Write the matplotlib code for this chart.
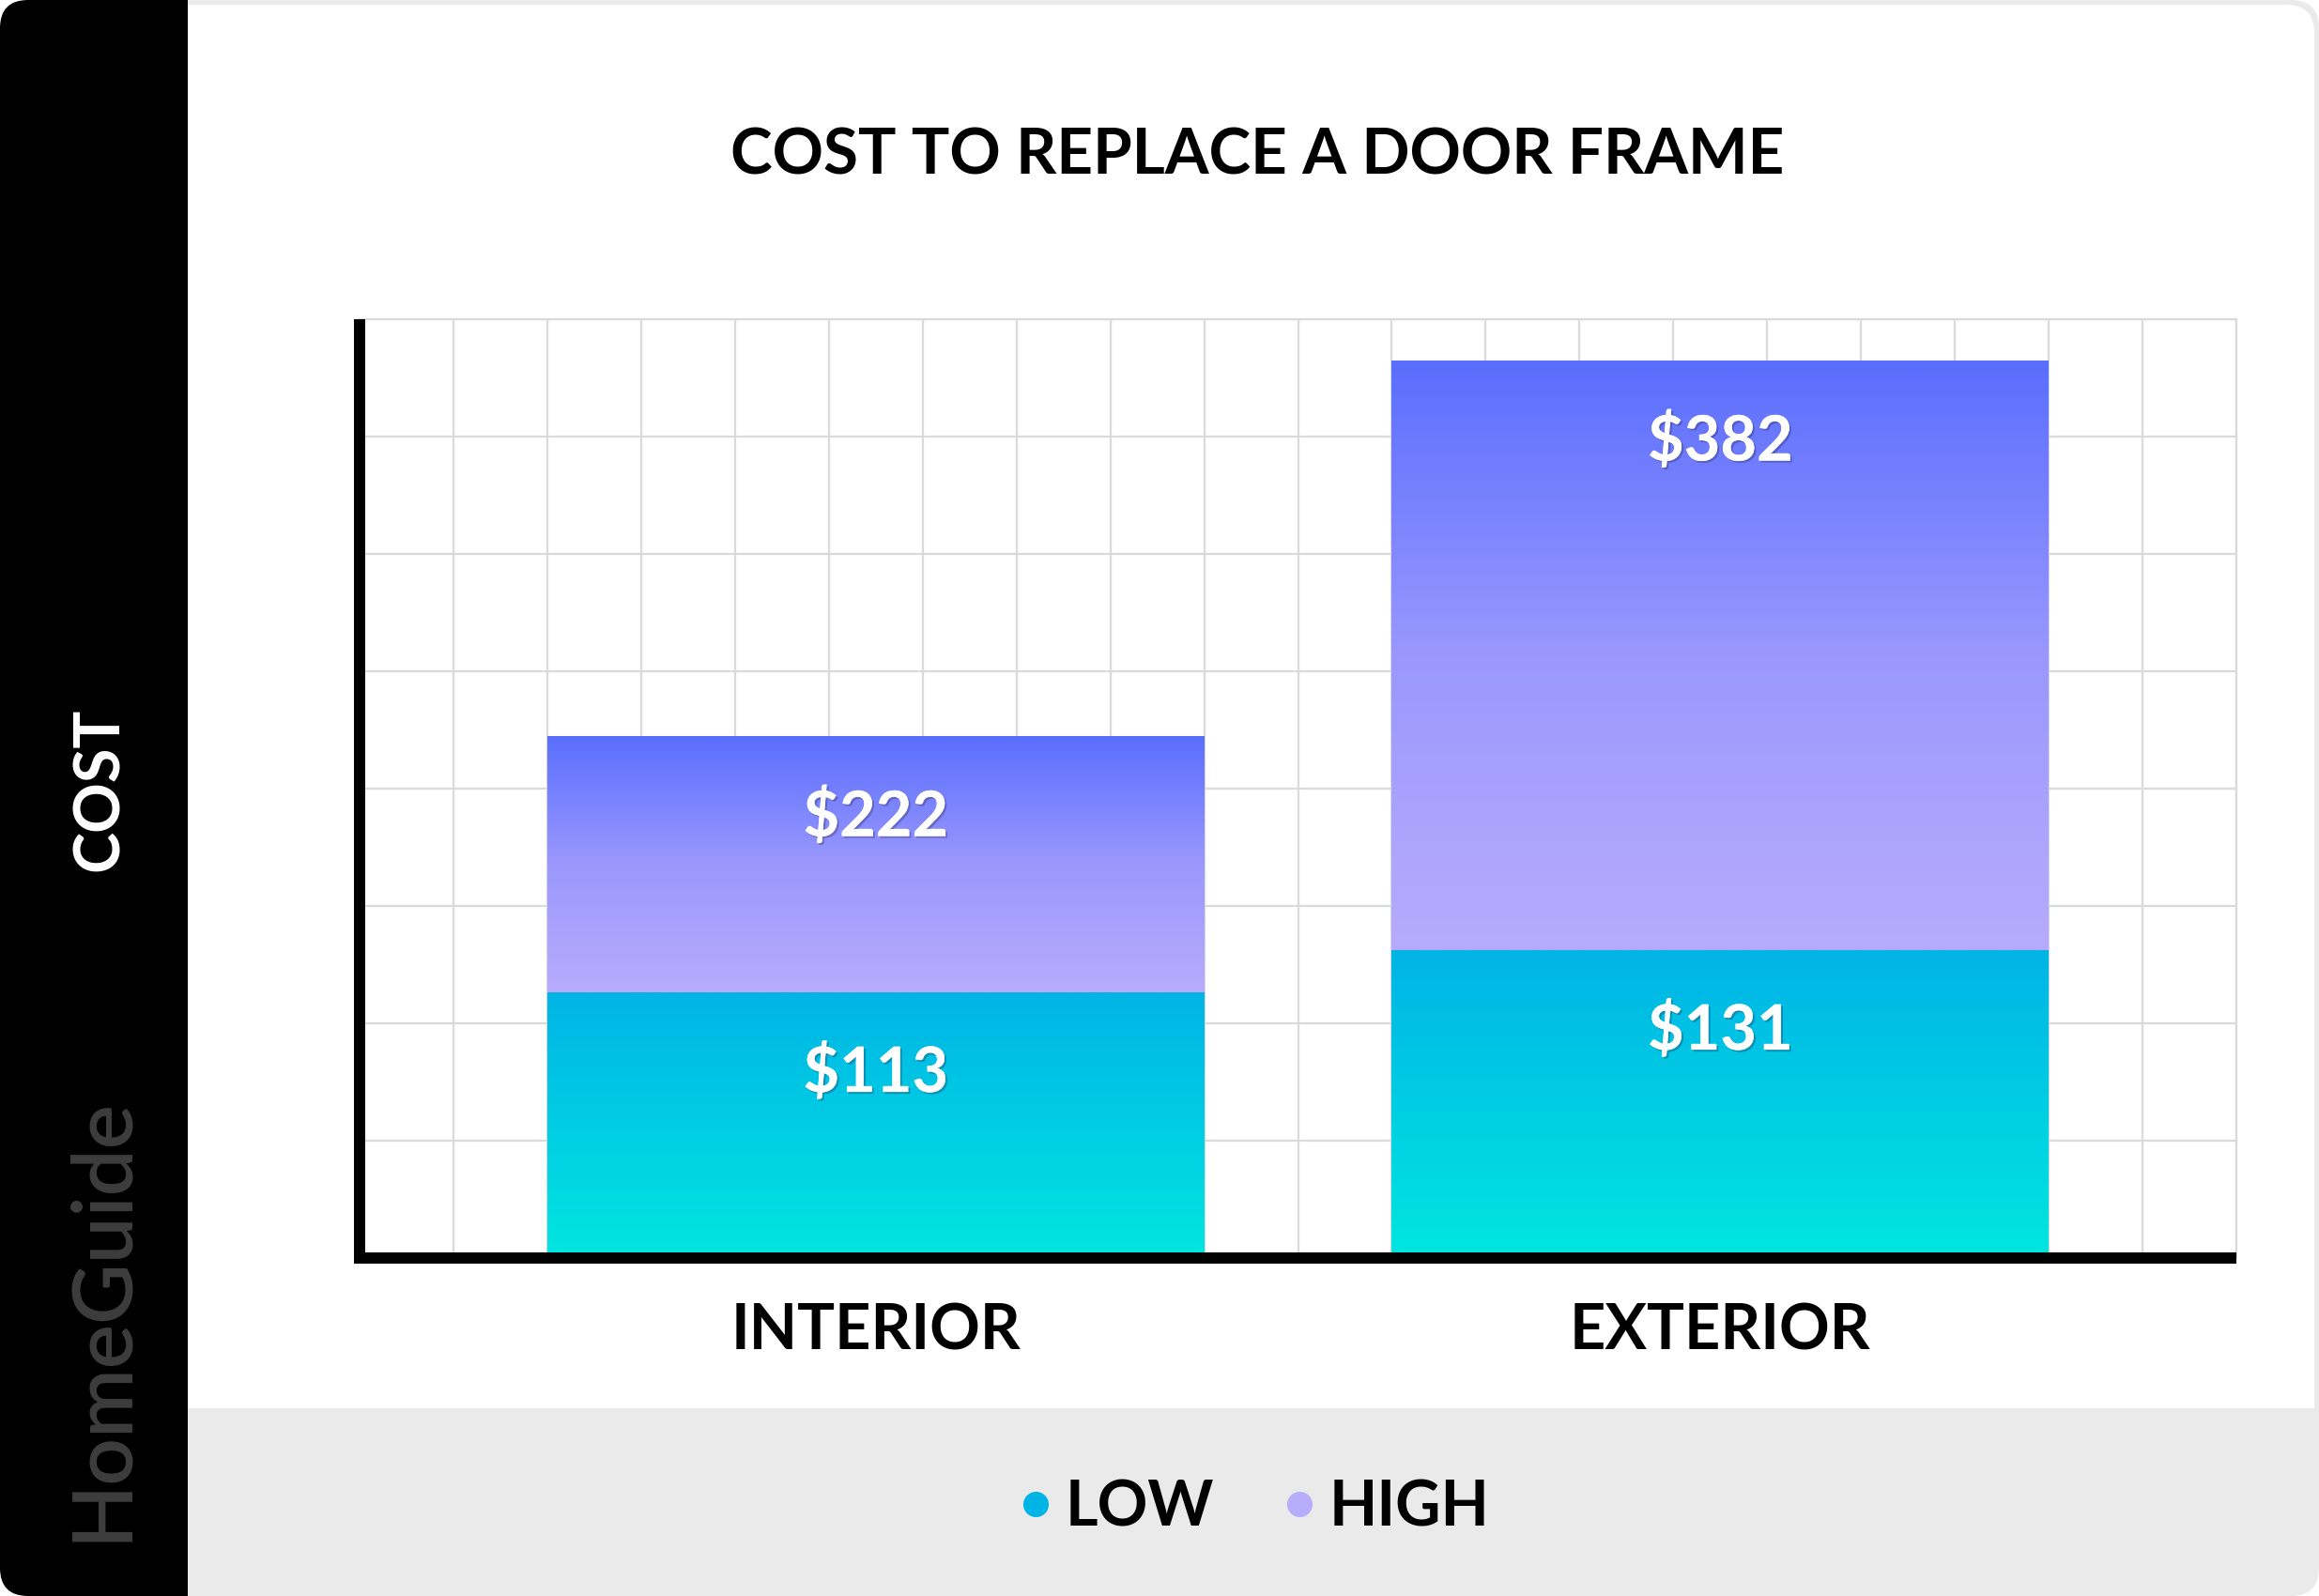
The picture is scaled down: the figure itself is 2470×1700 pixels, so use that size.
import matplotlib.pyplot as plt
import numpy as np
import matplotlib.patheffects as pe
from matplotlib.patches import FancyBboxPatch, Rectangle
from matplotlib.transforms import IdentityTransform
from matplotlib.lines import Line2D
from matplotlib.colors import LinearSegmentedColormap

# data
categories = ['INTERIOR', 'EXTERIOR']
low_cost = [113, 131]
high_cost = [222, 382]
series_names = ['LOW', 'HIGH']

W, H = 2470, 1700
plt.rcParams['font.family'] = ['Lato', 'DejaVu Sans']

fig = plt.figure(figsize=(W / 100, H / 100), dpi=100, facecolor='white')


def card(x0, y0, x1, y1, color, r=0, z=-10):
    # pixel box measured from the top-left corner of the image
    if r:
        p = FancyBboxPatch((x0, H - y1), x1 - x0, y1 - y0,
                           boxstyle='round,pad=0,rounding_size=%d' % r,
                           fc=color, ec='none', zorder=z)
    else:
        p = Rectangle((x0, H - y1), x1 - x0, y1 - y0, fc=color, ec='none', zorder=z)
    p.set_transform(IdentityTransform())
    fig.add_artist(p)


# background card: grey frame, white panel, black side strip
card(0, 0, W, H, '#eaeaea', r=30, z=-10)
card(150, 5, 2465, 1500, 'white', r=30, z=-9)
card(150, 1000, 2465, 1500, 'white', z=-9)
card(0, 0, 200, H, 'black', r=30, z=-8)
card(150, 0, 200, H, 'black', z=-8)

ax = fig.add_axes([383 / W, (H - 1340) / H, (2382 - 383) / W, (1340 - 340) / H])
ax.set_facecolor('white')

xpos = np.array([5.5, 14.5])
bar_w = 7

high_bars = ax.bar(xpos, high_cost, width=bar_w, color='#5b6ffe', ec='none', zorder=2)
low_bars = ax.bar(xpos, low_cost, width=bar_w, color='#00b5e6', ec='none', zorder=3)

high_cmap = LinearSegmentedColormap.from_list('hi', ['#b8abfc', '#9a98fd', '#5a6efe'])
low_cmap = LinearSegmentedColormap.from_list('lo', ['#00e6e0', '#00b4e6'])
grad = np.linspace(0, 1, 256).reshape(-1, 1)

for hb, lb in zip(high_bars, low_bars):
    x0, x1 = hb.get_x(), hb.get_x() + hb.get_width()
    ax.imshow(grad, cmap=high_cmap, extent=(x0, x1, lb.get_height(), hb.get_height()),
              origin='lower', aspect='auto', interpolation='bilinear', zorder=2.5)
    ax.imshow(grad, cmap=low_cmap, extent=(x0, x1, 0, lb.get_height()),
              origin='lower', aspect='auto', interpolation='bilinear', zorder=3.5)

shadow = [pe.withSimplePatchShadow(offset=(1.5, -1.5), shadow_rgbFace='#202050', alpha=0.3),
          pe.Normal()]
for vals in (high_cost, low_cost):
    for xc, v in zip(xpos, vals):
        ax.annotate('$%d' % v, xy=(xc, v), xytext=(0, -76), textcoords='offset points',
                    ha='center', va='baseline', fontsize=48, fontweight='bold',
                    color='white', path_effects=shadow, zorder=6)

ax.set_xlim(0, 20)
ax.set_ylim(0, 400)
ax.set_xticks(xpos)
ax.set_xticklabels(categories, fontsize=48, fontweight='bold')
ax.set_xticks(np.arange(0, 21), minor=True)
ax.set_yticks(np.arange(0, 401, 50))
ax.set_yticklabels([])
ax.tick_params(which='both', length=0)
ax.tick_params(axis='x', pad=34)
ax.grid(which='minor', axis='x', color='#dadada', lw=1.6)
ax.grid(which='major', axis='y', color='#dadada', lw=1.6)
ax.grid(which='major', axis='x', visible=False)
ax.set_axisbelow(True)

for s in ('left', 'bottom'):
    ax.spines[s].set_linewidth(8.6)
    ax.spines[s].set_color('black')
    ax.spines[s].set_zorder(5)
# left spine reaches down over the corner but stops at the top grid line
ax.spines['left'].set_capstyle('projecting')
ax.spines['left'].set_bounds(0, 397.6)
ax.spines['bottom'].set_capstyle('butt')
for s in ('top', 'right'):
    ax.spines[s].set_linewidth(1.6)
    ax.spines[s].set_color('#dadada')

fig.text(1339 / W, 1 - 186 / H, 'COST TO REPLACE A DOOR FRAME', ha='center', va='baseline',
         fontsize=48.5, fontweight='bold', color='black')

fig.text(126 / W, 1 - 841 / H, 'COST', rotation=90, rotation_mode='anchor',
         ha='center', va='baseline', fontsize=48, fontweight='bold', color='white')
fig.text(134 / W, 1 - 1405 / H, 'HomeGuide', rotation=90, rotation_mode='anchor',
         ha='center', va='baseline', fontsize=64, fontweight='semibold', color='#3d3d3d')

handles = [Line2D([], [], marker='o', ls='', markersize=19.5, color='#00b4e6', mec='none'),
           Line2D([], [], marker='o', ls='', markersize=19.5, color='#b8adfc', mec='none')]
fig.legend(handles, series_names, loc='center', bbox_to_anchor=(1338 / W, 1 - 1606 / H),
           ncol=2, frameon=False, prop=dict(weight='bold', size=48),
           handlelength=0.4, handletextpad=0.27, columnspacing=1.17,
           borderpad=0, borderaxespad=0)

fig.savefig('out.png', dpi=100, facecolor='white')
